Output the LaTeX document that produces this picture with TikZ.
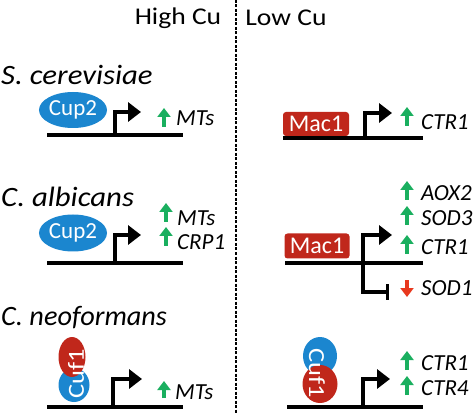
\documentclass[tikz,border=0pt]{standalone}
\usepackage{fontspec}
\setmainfont{Carlito}
\usetikzlibrary{arrows.meta, shapes.geometric}

\begin{document}
\begin{tikzpicture}[x=1pt, y=-1pt, font=\fontsize{24}{26}\selectfont,
    dna/.style={line width=4pt},
    promoter/.style={line width=3.5pt, -{Triangle[length=13pt, width=19pt]}},
    repress/.style={line width=3.5pt, -{Bar[width=16pt]}},
    up/.style={upgreen, line width=3.2pt, -{Triangle[length=9pt, width=13pt]}},
    down/.style={downred, line width=3.2pt, -{Triangle[length=9pt, width=13pt]}},
    gene/.style={anchor=west, inner sep=0pt, font=\fontsize{23}{25}\selectfont\itshape},
    species/.style={anchor=west, inner sep=0pt, font=\fontsize{28}{30}\selectfont\itshape},
    header/.style={xscale=1.15},
    factor/.style={ellipse, inner sep=0pt, text=white, font=\fontsize{23}{25}\selectfont},
    box/.style={fill=macred, text=white, rounded corners=3pt, inner sep=0pt,
        minimum width=66pt, minimum height=24pt, font=\fontsize{24}{26}\selectfont}]
  \definecolor{cupblue}{HTML}{1B86CF}
  \definecolor{macred}{HTML}{C0271B}
  \definecolor{upgreen}{HTML}{1AAF5F}
  \definecolor{downred}{HTML}{E8381E}
  \useasboundingbox (0,0) rectangle (474,414);

  % headers and divider
  \node [header] (high) at (178,18) {High Cu};
  \node [header] (low) at (286,18) {Low Cu};
  \coordinate (divtop) at (236,0);
  \coordinate (divbot) at (236,414);
  \draw [dash pattern=on 3pt off 1.5pt, line width=1.3pt] (divtop) -- (divbot);

  % species
  \node [species, xscale=1.1] (scer) at (1,75) {S. cerevisiae};
  \node [species, xscale=1.1] (calb) at (1,197) {C. albicans};
  \node [species, xscale=1.01] (cneo) at (1,318) {C. neoformans};

  % S. cerevisiae, high Cu
  \coordinate (dna1l) at (47,135); \coordinate (dna1r) at (183,135);
  \draw [dna] (dna1l) -- (dna1r);
  \node [factor, fill=cupblue, minimum width=60pt, minimum height=36pt] (cup1) at (73,110) {Cup2};
  \coordinate (tss1) at (115,135); \coordinate (tip1) at (141,112);
  \draw [promoter] (tss1) |- (tip1);
  \node [gene] (mts1) at (176,118) {MTs};
  \draw [up] (mts1.west) ++(-12,9) -- ++(0,-19);

  % S. cerevisiae, low Cu
  \coordinate (dna2l) at (283,138); \coordinate (dna2r) at (423,138);
  \draw [dna] (dna2l) -- (dna2r);
  \node [box] (mac1) at (316,124) {Mac1};
  \coordinate (tss2) at (365,138); \coordinate (tip2) at (392,113);
  \draw [promoter] (tss2) |- (tip2);
  \node [gene] (ctr1a) at (421,122) {CTR1};
  \draw [up] (ctr1a.west) ++(-14,4) -- ++(0,-19);

  % C. albicans, high Cu
  \coordinate (dna3l) at (47,263); \coordinate (dna3r) at (183,263);
  \draw [dna] (dna3l) -- (dna3r);
  \node [factor, fill=cupblue, minimum width=60pt, minimum height=37pt] (cup2) at (73,233) {Cup2};
  \coordinate (tss3) at (115,263); \coordinate (tip3) at (141,235);
  \draw [promoter] (tss3) |- (tip3);
  \foreach \g/\y in {MTs/218, CRP1/242} {
      \node [gene] (\g) at (177,\y) {\g};
      \draw [up] (\g.west) ++(-11,4) -- ++(0,-19);
  }

  % C. albicans, low Cu
  \coordinate (dna4l) at (285,263); \coordinate (dna4r) at (423,263);
  \draw [dna] (dna4l) -- (dna4r);
  \node [box, minimum width=65pt, minimum height=25pt] (mac2) at (317,246) {Mac1};
  \coordinate (tss4) at (363,263); \coordinate (tip4) at (392,235);
  \coordinate (bar4) at (389,292);
  \draw [promoter] (tss4) |- (tip4);
  \draw [repress] (tss4) |- (bar4);
  \foreach \g/\y in {AOX2/193, SOD3/218, CTR1/247} {
      \node [gene] (\g) at (421,\y) {\g};
      \draw [up] (\g.west) ++(-14,7) -- ++(0,-19);
  }
  \node [gene] (sod1) at (421,288) {SOD1};
  \draw [down] (sod1.west) ++(-14,-8) -- ++(0,17);

  % C. neoformans, high Cu
  \coordinate (dna5l) at (47,407); \coordinate (dna5r) at (183,407);
  \draw [dna] (dna5l) -- (dna5r);
  \node [factor, fill=cupblue, minimum width=31pt, minimum height=34pt] (blue5) at (74,385) {};
  \node [factor, fill=macred, minimum width=27pt, minimum height=40pt] (red5) at (72,357) {};
  \node [factor, rotate=90, xscale=1.15] (cuf5) at (76,374) {Cuf1};
  \coordinate (tss5) at (113,407); \coordinate (tip5) at (142,379);
  \draw [promoter] (tss5) |- (tip5);
  \node [gene] (mts5) at (175,392) {MTs};
  \draw [up] (mts5.west) ++(-11,6) -- ++(0,-17);

  % C. neoformans, low Cu
  \coordinate (dna6l) at (287,407); \coordinate (dna6r) at (423,407);
  \draw [dna] (dna6l) -- (dna6r);
  \node [factor, fill=cupblue, minimum width=34pt, minimum height=38pt] (blue6) at (320,356) {};
  \node [factor, fill=macred, minimum width=35pt, minimum height=38pt] (red6) at (320,384) {};
  \node [factor, rotate=-90, xscale=1.15] (cuf6) at (317,373) {Cuf1};
  \coordinate (tss6) at (363,407); \coordinate (tip6) at (390,379);
  \draw [promoter] (tss6) |- (tip6);
  \foreach \g/\y in {CTR1/363, CTR4/388} {
      \node [gene] (n\g) at (421,\y) {\g};
      \draw [up] (n\g.west) ++(-14,7) -- ++(0,-19);
  }
\end{tikzpicture}
\end{document}
